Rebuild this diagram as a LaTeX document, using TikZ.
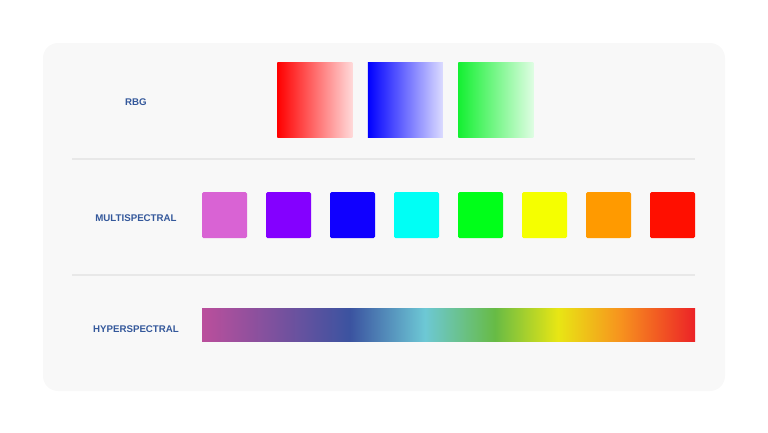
\documentclass[tikz,border=0pt]{standalone}
\usepackage{fontspec}
\setmainfont{Liberation Sans}
\usepackage{xcolor}
\usepackage{tikz}
\usetikzlibrary{positioning}

\definecolor{panelgray}{HTML}{F8F8F8}
\definecolor{rulegray}{HTML}{E8E8E8}
\definecolor{labelblue}{HTML}{34589B}
\definecolor{rgbred}{HTML}{FF0000}
\definecolor{rgbblue}{HTML}{0000FF}
\definecolor{rgbgreen}{HTML}{14F032}
\definecolor{bandviolet}{HTML}{D963D4}
\definecolor{bandpurple}{HTML}{8400FF}
\definecolor{bandblue}{HTML}{1000FF}
\definecolor{bandcyan}{HTML}{00FFF5}
\definecolor{bandgreen}{HTML}{00FF19}
\definecolor{bandyellow}{HTML}{F5FF00}
\definecolor{bandorange}{HTML}{FF9A00}
\definecolor{bandred}{HTML}{FF0F00}
\definecolor{specA}{HTML}{BB4F9C}
\definecolor{specB}{HTML}{3B53A0}
\definecolor{specC}{HTML}{6DC8D5}
\definecolor{specD}{HTML}{67BB45}
\definecolor{specE}{HTML}{E8E614}
\definecolor{specF}{HTML}{F7931E}
\definecolor{specG}{HTML}{EC2227}
\pgfdeclarehorizontalshading{spectrum}{100bp}{color(0bp)=(specA); color(25bp)=(specA); color(40bp)=(specB); color(47.6bp)=(specC); color(54.7bp)=(specD); color(61.1bp)=(specE); color(67.4bp)=(specF); color(75bp)=(specG); color(100bp)=(specG)}

\begin{document}
\begin{tikzpicture}[x=1pt, y=-1pt, every node/.style={font=\bfseries\fontsize{9.7}{11}\selectfont, outer sep=0pt},
    rowlabel/.style={text=labelblue, inner sep=0pt},
    rgbbox/.style={rectangle, minimum width=75pt, minimum height=75pt, inner sep=0pt},
    bandbox/.style={rectangle, rounded corners=1.5pt, minimum width=45pt, minimum height=46pt, inner sep=0pt},
    sepline/.style={draw=rulegray, line width=2pt}]
            \useasboundingbox (0,0) rectangle (768,432);
            \fill[panelgray, rounded corners=15pt] (43,43) rectangle (725,391);

            % RGB row
            \node (rgblabel) [rowlabel] at (136,102.5) {RBG};
            \node (red) [rgbbox, left color=rgbred, right color=rgbred!15] at (314.8,100.2) {};
            \node (blue) [rgbbox, left color=rgbblue, right color=rgbblue!14, right=15.5pt of red] {};
            \node (green) [rgbbox, left color=rgbgreen, right color=rgbgreen!14, right=15.5pt of blue] {};

            \draw[sepline] (72,159) -- (695,159);

            % Multispectral row
            \node (multilabel) [rowlabel] at (136,218.5) {MULTISPECTRAL};
            \node (violet) [bandbox, fill=bandviolet] at (224.5,215.2) {};
            \node (purple) [bandbox, fill=bandpurple, right=19pt of violet] {};
            \node (indigo) [bandbox, fill=bandblue, right=19pt of purple] {};
            \node (cyan) [bandbox, fill=bandcyan, right=19pt of indigo] {};
            \node (lime) [bandbox, fill=bandgreen, right=19pt of cyan] {};
            \node (yellow) [bandbox, fill=bandyellow, right=19pt of lime] {};
            \node (orange) [bandbox, fill=bandorange, right=19pt of yellow] {};
            \node (scarlet) [bandbox, fill=bandred, right=19pt of orange] {};

            \draw[sepline] (72,275) -- (695,275);

            % Hyperspectral row
            \node (hyperlabel) [rowlabel] at (136,329) {HYPERSPECTRAL};
            \node (spectrumbar) [rectangle, inner sep=0pt, minimum width=493pt, minimum height=33pt, shading=spectrum] at (448.5,325) {};
\end{tikzpicture}
\end{document}
